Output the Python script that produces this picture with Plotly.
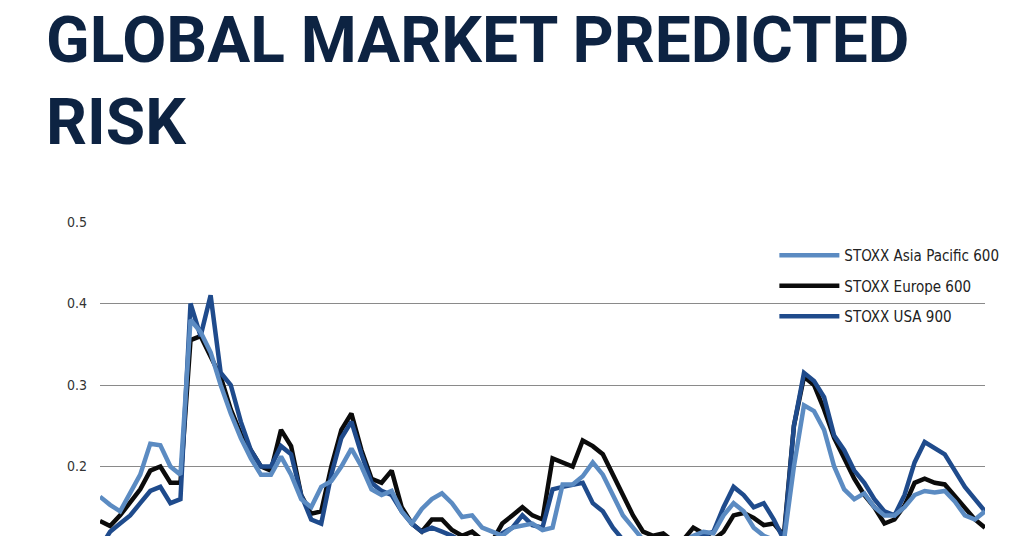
import pandas as pd
import plotly.graph_objects as go

asia = [0.163,0.153,0.145,0.168,0.19,0.228,0.226,0.2,0.19,0.38,0.365,0.34,0.3,0.265,0.235,0.21,0.19,0.19,0.212,0.19,
        0.16,0.15,0.175,0.182,0.2,0.222,0.2,0.172,0.165,0.17,0.145,0.13,0.148,0.16,0.167,0.155,0.138,0.14,0.125,0.12,
        0.115,0.125,0.128,0.13,0.122,0.125,0.178,0.178,0.188,0.205,0.19,0.165,0.14,0.125,0.11,0.105,0.105,0.105,0.108,0.115,
        0.12,0.118,0.14,0.155,0.145,0.125,0.115,0.11,0.108,0.2,0.275,0.268,0.245,0.2,0.172,0.16,0.167,0.15,0.14,0.14,
        0.15,0.165,0.17,0.168,0.17,0.157,0.14,0.135,0.145]
europe = [0.133,0.127,0.14,0.155,0.172,0.195,0.2,0.18,0.18,0.355,0.36,0.335,0.31,0.27,0.24,0.22,0.2,0.195,0.245,0.225,
          0.165,0.142,0.145,0.2,0.245,0.265,0.22,0.185,0.18,0.195,0.15,0.13,0.12,0.135,0.135,0.122,0.115,0.12,0.11,0.108,
          0.13,0.14,0.15,0.14,0.135,0.21,0.205,0.2,0.232,0.225,0.215,0.19,0.165,0.14,0.12,0.115,0.118,0.108,0.11,0.125,
          0.118,0.11,0.12,0.14,0.143,0.137,0.128,0.13,0.115,0.25,0.31,0.3,0.27,0.235,0.21,0.185,0.165,0.15,0.13,0.135,
          0.152,0.18,0.185,0.18,0.178,0.163,0.148,0.135,0.125]
usa = [0.1,0.12,0.13,0.14,0.155,0.17,0.175,0.155,0.16,0.40,0.36,0.41,0.315,0.3,0.255,0.22,0.2,0.2,0.225,0.215,
       0.165,0.135,0.13,0.19,0.235,0.255,0.215,0.18,0.17,0.165,0.145,0.13,0.12,0.125,0.12,0.115,0.108,0.11,0.105,0.105,
       0.118,0.125,0.14,0.128,0.125,0.172,0.175,0.178,0.18,0.155,0.145,0.125,0.11,0.105,0.105,0.105,0.105,0.105,0.105,0.11,
       0.115,0.12,0.15,0.175,0.165,0.15,0.155,0.135,0.11,0.25,0.315,0.305,0.285,0.238,0.22,0.195,0.18,0.16,0.145,0.14,
       0.165,0.205,0.23,0.222,0.215,0.195,0.175,0.16,0.145]
series_names = ["STOXX Asia Pacific 600", "STOXX Europe 600", "STOXX USA 900"]
title_lines = ["GLOBAL MARKET PREDICTED", "RISK"]
y_ticks = [0.2, 0.3, 0.4, 0.5]
y_tick_labels = ["0.2", "0.3", "0.4", "0.5"]

def dates(n):
    return pd.date_range("2007-01-01", periods=n, freq="70D")

fig = go.Figure()
specs = [(europe, series_names[1], "#0b0b0b", 2),
         (usa, series_names[2], "#1f4b8c", 3),
         (asia, series_names[0], "#5b8bc2", 1)]
for vals, name, col, rank in specs:
    fig.add_trace(go.Scatter(x=dates(len(vals)), y=vals, mode="lines", name=name,
                             line=dict(color=col, width=4.5), legendrank=rank,
                             legendgroup=name))

for txt, yy in zip(title_lines, [1.451, 1.192]):
    fig.add_annotation(text="<b>" + txt + "</b>", xref="paper", yref="paper",
                       x=-0.0633, y=yy, xanchor="left", yanchor="bottom", showarrow=False,
                       font=dict(family="Roboto", size=64, color="#0d2342"))

cond = "Liberation Sans Narrow, DejaVu Sans Condensed, Arial Narrow, sans-serif"
fig.update_layout(
    width=1016, height=528,
    margin=dict(l=92, r=39, t=214, b=0),
    paper_bgcolor="white", plot_bgcolor="white",
    xaxis=dict(visible=False, showgrid=False),
    yaxis=dict(range=[0.5 - 314 / 815, 0.5], tickvals=y_ticks, ticktext=y_tick_labels,
               showgrid=True, gridcolor="#8a8a8a", gridwidth=1, zeroline=False,
               showline=False, ticks="", ticklabelstandoff=12,
               tickfont=dict(family=cond, size=14, color="#333333")),
    legend=dict(x=0.762, y=0.946, xanchor="left", yanchor="top", tracegroupgap=8,
                font=dict(family=cond, size=15, color="#222222"), itemwidth=60,
                bgcolor="rgba(0,0,0,0)"),
)
fig.write_html("out.html")
